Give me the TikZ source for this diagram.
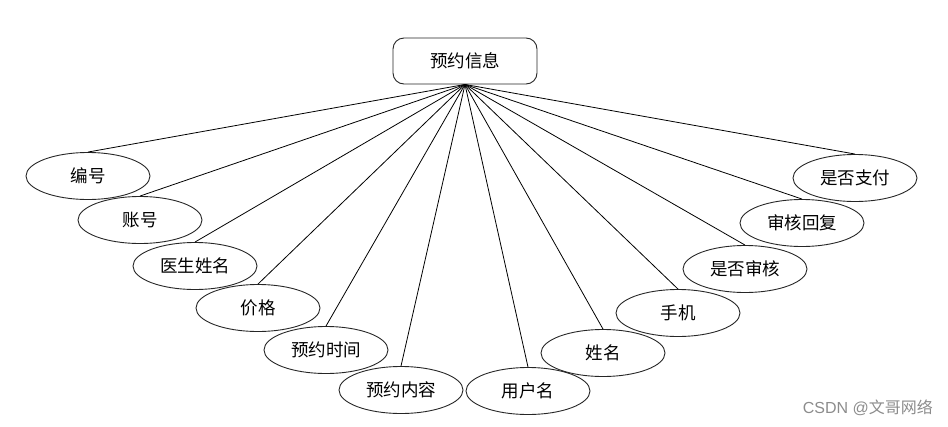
\documentclass[tikz,border=0pt]{standalone}
\usepackage{fontspec}
\newfontfamily\cjk{Noto Sans CJK SC}
\newfontfamily\wmfont{Liberation Sans}
\usetikzlibrary{shapes.geometric}
\begin{document}
\begin{tikzpicture}[x=1pt,y=-1pt,
  attr/.style={draw=black!85,line width=0.9pt,ellipse,minimum width=124pt,minimum height=47pt,inner sep=0pt,font=\cjk\fontsize{17.5}{20}\selectfont},
  entity/.style={draw=black!85,line width=0.9pt,rounded corners=11pt,minimum width=144pt,minimum height=46pt,inner sep=0pt,font=\cjk\fontsize{17.5}{20}\selectfont},
  link/.style={line width=0.8pt,black}]
\useasboundingbox (0,0) rectangle (948,426);
\node[entity] (root) at (465,61) {预约信息};
\node[attr] (a1) at (88,176) {编号};
\node[attr] (a2) at (140,220) {账号};
\node[attr] (a3) at (195,266) {医生姓名};
\node[attr] (a4) at (258,308) {价格};
\node[attr] (a5) at (326,350) {预约时间};
\node[attr] (a6) at (401,390) {预约内容};
\node[attr] (a7) at (528,391) {用户名};
\node[attr] (a8) at (603,353) {姓名};
\node[attr] (a9) at (678,313) {手机};
\node[attr] (a10) at (745,269) {是否审核};
\node[attr] (a11) at (802,223) {审核回复};
\node[attr] (a12) at (855,178) {是否支付};
\foreach \n in {a1,a2,a3,a4,a5,a6,a7,a8,a9,a10,a11,a12}
  \draw[link] (root.south) -- (\n.north);
\node[text=black!45,font=\wmfont\fontsize{16}{18}\selectfont,anchor=east,inner sep=0pt] (wm) at (933,408) {CSDN @{\cjk 文哥网络}};
\end{tikzpicture}
\end{document}
